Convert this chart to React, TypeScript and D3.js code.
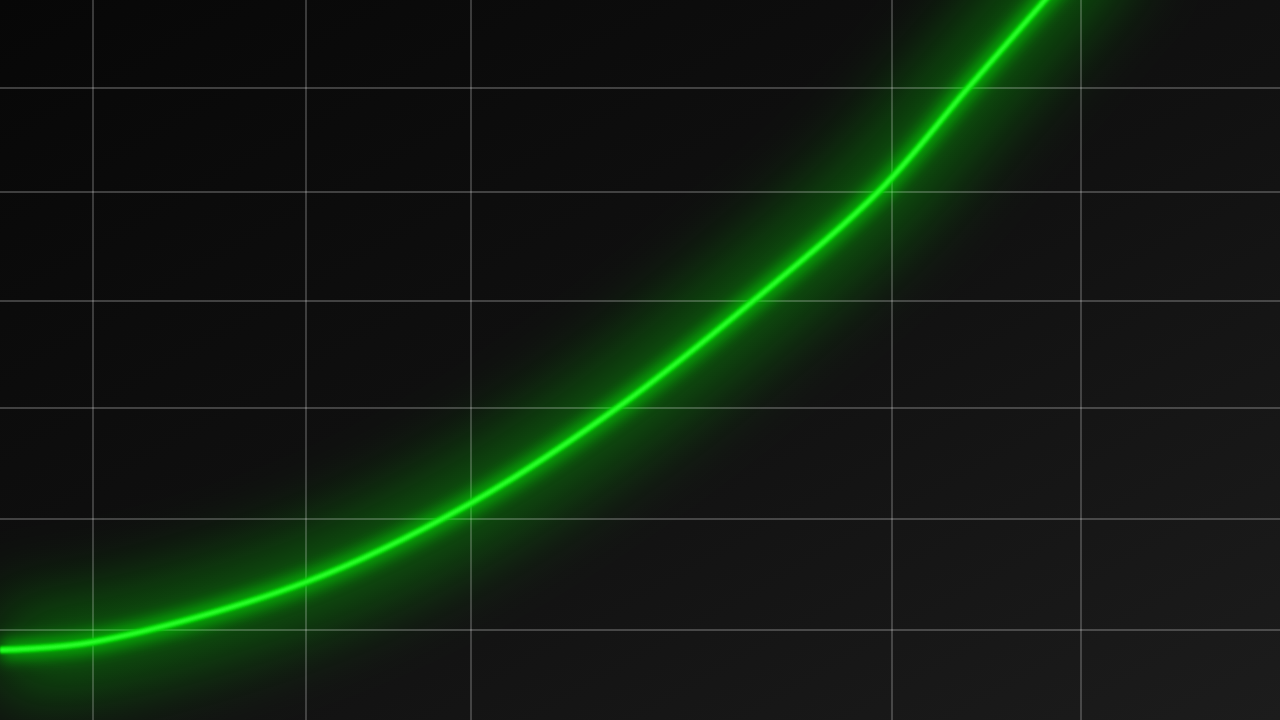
import React from 'react';
import * as d3 from 'd3';

const W = 1280;
const H = 720;

// curve samples (x, y) in chart units
const curveX = [0, 9.3, 30.6, 47.1, 61.7, 75.3, 88.0, 96.8, 104.5, 111];
const curveY = [7, 7.8, 13.8, 21.7, 31.2, 41.9, 53.0, 63.2, 72, 79.5];

// grid positions
const gridX = [9.3, 30.6, 47.1, 89.2, 108.1];
const gridY = [9.0, 20.1, 31.2, 41.9, 52.8, 63.2];

export default function App() {
  const x = d3.scaleLinear().domain([0, 128]).range([0, W]);
  const y = d3.scaleLinear().domain([0, 72]).range([H, 0]);

  const pts: [number, number][] = curveX.map((v, i) => [v, curveY[i]]);
  const line = d3
    .line<[number, number]>()
    .x(d => x(d[0]))
    .y(d => y(d[1]))
    .curve(d3.curveCatmullRom.alpha(0.5));
  const path = line(pts) || '';

  return (
    <div style={{ position: 'absolute', left: 0, top: 0, width: W, height: H, overflow: 'hidden' }}>
      <svg width={W} height={H} style={{ display: 'block' }}>
        <defs>
          <linearGradient id="bg" x1="0" y1="0" x2="1" y2="1">
            <stop offset="0%" stopColor="#070707" />
            <stop offset="55%" stopColor="#111111" />
            <stop offset="100%" stopColor="#1c1c1c" />
          </linearGradient>
          <filter id="haze" x="-20%" y="-20%" width="140%" height="140%">
            <feGaussianBlur stdDeviation="35" />
          </filter>
          <filter id="glow" x="-20%" y="-20%" width="140%" height="140%">
            <feGaussianBlur stdDeviation="8" />
          </filter>
          <filter id="soft" x="-10%" y="-10%" width="120%" height="120%">
            <feGaussianBlur stdDeviation="1.2" />
          </filter>
        </defs>
        <rect width={W} height={H} fill="url(#bg)" />

        {/* wide green haze */}
        <path d={path} fill="none" stroke="#00ff00" strokeOpacity={0.3} strokeWidth={90} filter="url(#haze)" />

        {/* grid */}
        <g>
          {gridX.map(v => (
            <line key={'gx' + v} x1={x(v)} x2={x(v)} y1={0} y2={H} stroke="#ffffff" strokeOpacity={0.26} strokeWidth={1.6} />
          ))}
          {gridY.map(v => (
            <line key={'gy' + v} x1={0} x2={W} y1={y(v)} y2={y(v)} stroke="#ffffff" strokeOpacity={0.22} strokeWidth={2} />
          ))}
        </g>

        {/* glow + core */}
        <path d={path} fill="none" stroke="#00ff00" strokeOpacity={0.6} strokeWidth={18} filter="url(#glow)" />
        <path d={path} fill="none" stroke="#00d400" strokeWidth={7.5} filter="url(#soft)" />
        <path d={path} fill="none" stroke="#2cff2c" strokeWidth={4} filter="url(#soft)" />
      </svg>
    </div>
  );
}
